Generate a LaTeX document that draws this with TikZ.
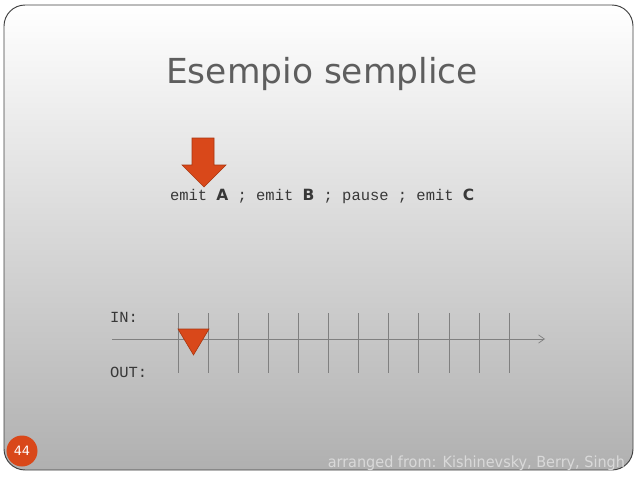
\documentclass[tikz,border=0pt]{standalone}
\usepackage{fontspec}
\setmainfont{DejaVu Sans}
\setmonofont{Liberation Mono}
\newfontfamily\heavyfont{DejaVu Sans}
\newfontfamily\footfont[FakeStretch=0.94]{DejaVu Sans}
\usetikzlibrary{arrows.meta}
\definecolor{slideorange}{HTML}{D9481A}
\definecolor{slideorangedark}{HTML}{A8360F}
\newcommand{\sig}[1]{{\heavyfont\bfseries #1}}
\begin{document}
\begin{tikzpicture}[x=0.03cm, y=-0.03cm,
  every node/.style={inner sep=0pt, outer sep=0pt},
  code/.style={font=\fontsize{13.2}{15}\ttfamily, text=black!78},
  tick/.style={draw=black!50, line width=0.6pt},
  marker/.style={fill=slideorange, draw=slideorangedark, line width=0.5pt}]
  \useasboundingbox (0,0) rectangle (638,478);
  % slide frame
  \shade[top color=white, middle color=black!11, bottom color=black!31, rounded corners=18]
    (4,5) rectangle (633,470);
  \draw[black!75, line width=0.8pt, rounded corners=18] (4,5) rectangle (633,470);
  % title
  \node[anchor=base, font=\fontsize{29.4}{32}\selectfont, text=black!63] (title) at (322,84) {Esempio semplice};
  % program
  \node[code, anchor=base west] (prog) at (170,200)
    {emit \sig{A} ; emit \sig{B} ; pause ; emit \sig{C}};
  \draw[marker] (192,138) -- (214,138) -- (214,165) -- (226,165) -- (204,187)
    -- (182,165) -- (192,165) -- cycle;
  % time line
  \node[code, anchor=base west] (in) at (110,322) {IN:};
  \node[code, anchor=base west] (out) at (110,377) {OUT:};
  \coordinate (t0) at (112,339);
  \coordinate (t1) at (545,339);
  \draw[black!50, line width=0.6pt, -{Straight Barb[length=5pt, width=7pt]}] (t0) -- (t1);
  \foreach \i in {0,...,11}
    \draw[tick] (178+30.1*\i,313) -- (178+30.1*\i,373);
  \draw[marker] (178,329) -- (209,329) -- (193.5,355) -- cycle;
  % footer
  \node[circle, fill=slideorange, minimum size=0.93cm, text=white,
    font=\fontsize{11}{12}\selectfont] (num) at (22,451) {44};
  \node[anchor=base east, text=black!15, font=\footfont\fontsize{13.1}{14}\selectfont] (credits) at (625,467)
    {arranged from: Kishinevsky, Berry, Singh};
\end{tikzpicture}
\end{document}
